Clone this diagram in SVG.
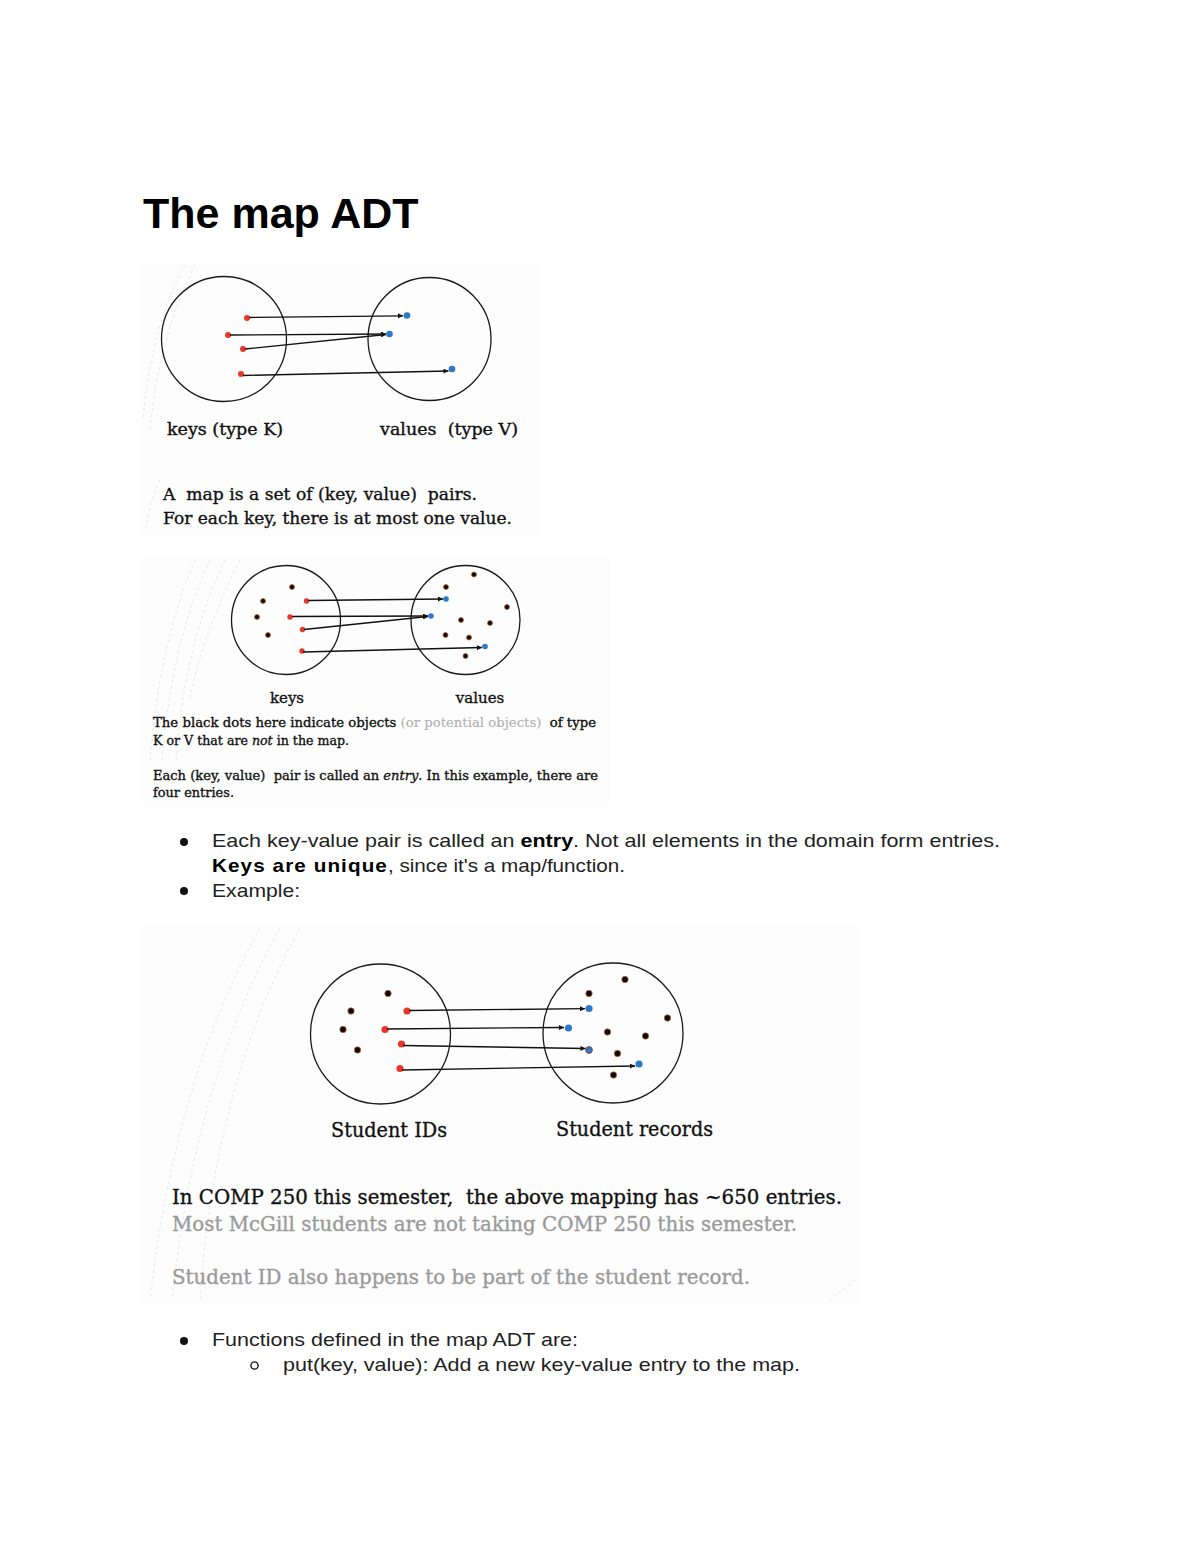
<svg xmlns="http://www.w3.org/2000/svg" width="1200" height="1553" viewBox="0 0 1200 1553">
<style>
.bg{fill:#ffffff}
.panel{fill:#fdfdfd}
.arc{fill:none;stroke:#e6e6e6;stroke-width:1;stroke-dasharray:3 3}
.set{fill:none;stroke:#1a1a1a;stroke-width:1.3}
.red{fill:#e8372a}
.blue{fill:#2f78c6}
.blk{fill:#140800;stroke:#b06a40;stroke-width:0.8}
.conn{stroke:#111;stroke-width:1.3;fill:none;marker-end:url(#ah)}
.slab{font-family:"DejaVu Serif","Liberation Serif",serif;fill:#111;stroke:#111;stroke-width:0.35;white-space:pre}
.grey{fill:#9a9a9a;stroke:#9a9a9a}
.lgrey{fill:#b0b0b0;stroke:#b0b0b0}
.body{font-family:"Liberation Sans",Arial,sans-serif;font-size:19px;fill:#222;white-space:pre}
.title{font-family:"Liberation Sans",Arial,sans-serif;font-size:43px;font-weight:bold;fill:#000}
</style>
<defs>
<marker id="ah" viewBox="0 0 10 10" refX="10" refY="5" markerWidth="6" markerHeight="5" markerUnits="userSpaceOnUse" orient="auto">
<path d="M0,0 L10,5 L0,10 z" fill="#111"/>
</marker>
</defs>
<rect class="bg" x="0" y="0" width="1200" height="1553"/>

<text id="title" class="title" x="143" y="228">The map ADT</text>

<!-- faint image backgrounds -->
<g id="backgrounds">
<rect class="panel" x="140" y="262" width="400" height="274"/>
<path class="arc" d="M185,265 Q150,330 143,420"/>
<path class="arc" d="M195,265 Q158,340 150,430"/>
<path class="arc" d="M160,480 Q150,500 146,530"/>
<rect class="panel" x="140" y="556" width="470" height="250"/>
<path class="arc" d="M195,560 Q160,640 150,760"/>
<path class="arc" d="M210,560 Q172,640 162,760"/>
<path class="arc" d="M225,560 Q185,640 176,760"/>
<path class="arc" d="M240,560 Q200,640 190,700"/>
<rect class="panel" x="140" y="925" width="720" height="380"/>
<path class="arc" d="M260,928 Q175,1080 150,1300"/>
<path class="arc" d="M280,928 Q195,1080 172,1300"/>
<path class="arc" d="M300,928 Q215,1080 200,1300"/>
<path class="arc" d="M855,1280 L830,1300"/>
</g>

<!-- Diagram 1 -->
<g id="d1-keys">
<circle class="set" cx="224" cy="339" r="62.5"/>
<circle class="red" cx="247" cy="318" r="3"/>
<circle class="red" cx="228" cy="335" r="3"/>
<circle class="red" cx="243" cy="349" r="3"/>
<circle class="red" cx="241" cy="374" r="3"/>
<text class="slab" x="167" y="435" font-size="16" textLength="116" lengthAdjust="spacingAndGlyphs">keys (type K)</text>
</g>
<g id="d1-values">
<circle class="set" cx="429.5" cy="339" r="61.5"/>
<circle class="blue" cx="407" cy="315.5" r="3.3"/>
<circle class="blue" cx="389.5" cy="334" r="3.3"/>
<circle class="blue" cx="452" cy="369" r="3.3"/>
<text class="slab" x="380" y="435" font-size="16" textLength="138" lengthAdjust="spacingAndGlyphs">values  (type V)</text>
</g>
<g id="d1-caption">
<text class="slab" x="163" y="500" font-size="16.5" textLength="314" lengthAdjust="spacingAndGlyphs">A  map is a set of (key, value)  pairs.</text>
<text class="slab" x="163" y="524" font-size="16.5" textLength="349" lengthAdjust="spacingAndGlyphs">For each key, there is at most one value.</text>
</g>

<!-- Diagram 2 -->
<g id="d2-keys">
<circle class="set" cx="286" cy="620" r="54.5"/>
<circle class="blk" cx="292" cy="587" r="2.5"/>
<circle class="blk" cx="263" cy="601" r="2.5"/>
<circle class="blk" cx="257" cy="617" r="2.5"/>
<circle class="blk" cx="268" cy="635" r="2.5"/>
<circle class="red" cx="306.5" cy="601" r="2.7"/>
<circle class="red" cx="290" cy="617" r="2.7"/>
<circle class="red" cx="302.5" cy="629.5" r="2.7"/>
<circle class="red" cx="302" cy="651" r="2.7"/>
<text class="slab" x="287" y="703" font-size="15" text-anchor="middle" stroke-width="0.5">keys</text>
</g>
<g id="d2-values">
<circle class="set" cx="465.5" cy="620" r="54.5"/>
<circle class="blk" cx="474" cy="574.5" r="2.5"/>
<circle class="blk" cx="446" cy="587" r="2.5"/>
<circle class="blk" cx="507" cy="607" r="2.5"/>
<circle class="blk" cx="461" cy="620" r="2.5"/>
<circle class="blk" cx="490" cy="623" r="2.5"/>
<circle class="blk" cx="445.5" cy="635" r="2.5"/>
<circle class="blk" cx="469" cy="637.5" r="2.5"/>
<circle class="blk" cx="465.5" cy="656" r="2.5"/>
<circle class="blue" cx="446" cy="599" r="2.8"/>
<circle class="blue" cx="431" cy="616" r="2.8"/>
<circle class="blue" cx="485" cy="646.5" r="2.8"/>
<text class="slab" x="480" y="703" font-size="15" text-anchor="middle" stroke-width="0.5">values</text>
</g>
<g id="d2-caption">
<text class="slab" x="153" y="727" font-size="13" textLength="443" lengthAdjust="spacingAndGlyphs">The black dots here indicate objects <tspan class="lgrey" stroke-width="0.1">(or potential objects)</tspan>  of type</text>
<text class="slab" x="153" y="745" font-size="13" textLength="196" lengthAdjust="spacingAndGlyphs">K or V that are <tspan font-style="italic">not</tspan> in the map.</text>
<text class="slab" x="153" y="780" font-size="13" textLength="445" lengthAdjust="spacingAndGlyphs">Each (key, value)  pair is called an <tspan font-style="italic">entry</tspan>. In this example, there are</text>
<text class="slab" x="153" y="797" font-size="13" textLength="81" lengthAdjust="spacingAndGlyphs">four entries.</text>
</g>

<!-- Bullets -->
<g id="bullets-1">
<circle cx="184" cy="842" r="4" fill="#111"/>
<text class="body" x="212" y="847" textLength="788" lengthAdjust="spacingAndGlyphs">Each key-value pair is called an <tspan font-weight="bold" fill="#000">entry</tspan>. Not all elements in the domain form entries.</text>
<text class="body" x="212" y="872" textLength="413" lengthAdjust="spacingAndGlyphs"><tspan font-weight="bold" fill="#000" letter-spacing="1">Keys are unique</tspan>, since it's a map/function.</text>
<circle cx="184" cy="891" r="4" fill="#111"/>
<text class="body" x="212" y="897" textLength="88" lengthAdjust="spacingAndGlyphs">Example:</text>
</g>

<!-- Diagram 3 -->
<g id="d3-keys">
<circle class="set" cx="380.5" cy="1034" r="70"/>
<circle class="blk" cx="388" cy="993.5" r="3.2"/>
<circle class="blk" cx="351" cy="1011" r="3.2"/>
<circle class="blk" cx="343" cy="1029.5" r="3.2"/>
<circle class="blk" cx="357.5" cy="1050" r="3.2"/>
<circle class="red" cx="407" cy="1011" r="3.6"/>
<circle class="red" cx="385" cy="1029.5" r="3.6"/>
<circle class="red" cx="401.5" cy="1044" r="3.6"/>
<circle class="red" cx="400" cy="1068.5" r="3.6"/>
<text class="slab" x="331" y="1137" font-size="20" textLength="116" lengthAdjust="spacingAndGlyphs">Student IDs</text>
</g>
<g id="d3-values">
<circle class="set" cx="613" cy="1033" r="70"/>
<circle class="blk" cx="625" cy="979.5" r="3.2"/>
<circle class="blk" cx="589" cy="993.5" r="3.2"/>
<circle class="blk" cx="667.5" cy="1018" r="3.2"/>
<circle class="blk" cx="607.5" cy="1032" r="3.2"/>
<circle class="blk" cx="645.5" cy="1036" r="3.2"/>
<circle class="blk" cx="617.5" cy="1053.5" r="3.2"/>
<circle class="blk" cx="613.5" cy="1075" r="3.2"/>
<circle class="blue" cx="589" cy="1008.5" r="3.6"/>
<circle class="blue" cx="568.5" cy="1028" r="3.6"/>
<circle class="blue" cx="589" cy="1050" r="3.4" stroke="#7a4a3a" stroke-width="0.9"/>
<circle class="blue" cx="639" cy="1064" r="3.6"/>
<text class="slab" x="556" y="1136" font-size="20" textLength="157" lengthAdjust="spacingAndGlyphs">Student records</text>
</g>
<g id="d3-caption">
<text class="slab" x="172" y="1204" font-size="20.5" textLength="670" lengthAdjust="spacingAndGlyphs">In COMP 250 this semester,  the above mapping has ~650 entries.</text>
<text class="slab grey" x="172" y="1231" font-size="20.5" textLength="625" lengthAdjust="spacingAndGlyphs">Most McGill students are not taking COMP 250 this semester.</text>
<text class="slab grey" x="172" y="1284" font-size="20.5" textLength="578" lengthAdjust="spacingAndGlyphs">Student ID also happens to be part of the student record.</text>
</g>

<!-- Bullets 2 -->
<g id="bullets-2">
<circle cx="184" cy="1341" r="4" fill="#111"/>
<text class="body" x="212" y="1346" textLength="366" lengthAdjust="spacingAndGlyphs">Functions defined in the map ADT are:</text>
<circle cx="254.5" cy="1365.5" r="3.6" fill="none" stroke="#111" stroke-width="1.4"/>
<text class="body" x="283" y="1371" textLength="517" lengthAdjust="spacingAndGlyphs">put(key, value): Add a new key-value entry to the map.</text>
</g>

<!-- Connectors -->
<g id="connectors">
<line class="conn" x1="249" y1="317.5" x2="403" y2="315.8"/>
<line class="conn" x1="230" y1="335" x2="386" y2="334"/>
<line class="conn" x1="245" y1="349" x2="386" y2="334.5"/>
<line class="conn" x1="243" y1="375.5" x2="448.5" y2="371"/>

<line class="conn" x1="308" y1="600.5" x2="443" y2="599"/>
<line class="conn" x1="292" y1="616.5" x2="428" y2="616"/>
<line class="conn" x1="304" y1="629.5" x2="428" y2="616.5"/>
<line class="conn" x1="303" y1="652" x2="482" y2="647.5"/>

<line class="conn" x1="409" y1="1010.5" x2="585" y2="1008.7"/>
<line class="conn" x1="387" y1="1029" x2="564" y2="1027.5"/>
<line class="conn" x1="403" y1="1045.5" x2="585.5" y2="1048.5"/>
<line class="conn" x1="402" y1="1070" x2="635" y2="1066"/>
</g>
</svg>
